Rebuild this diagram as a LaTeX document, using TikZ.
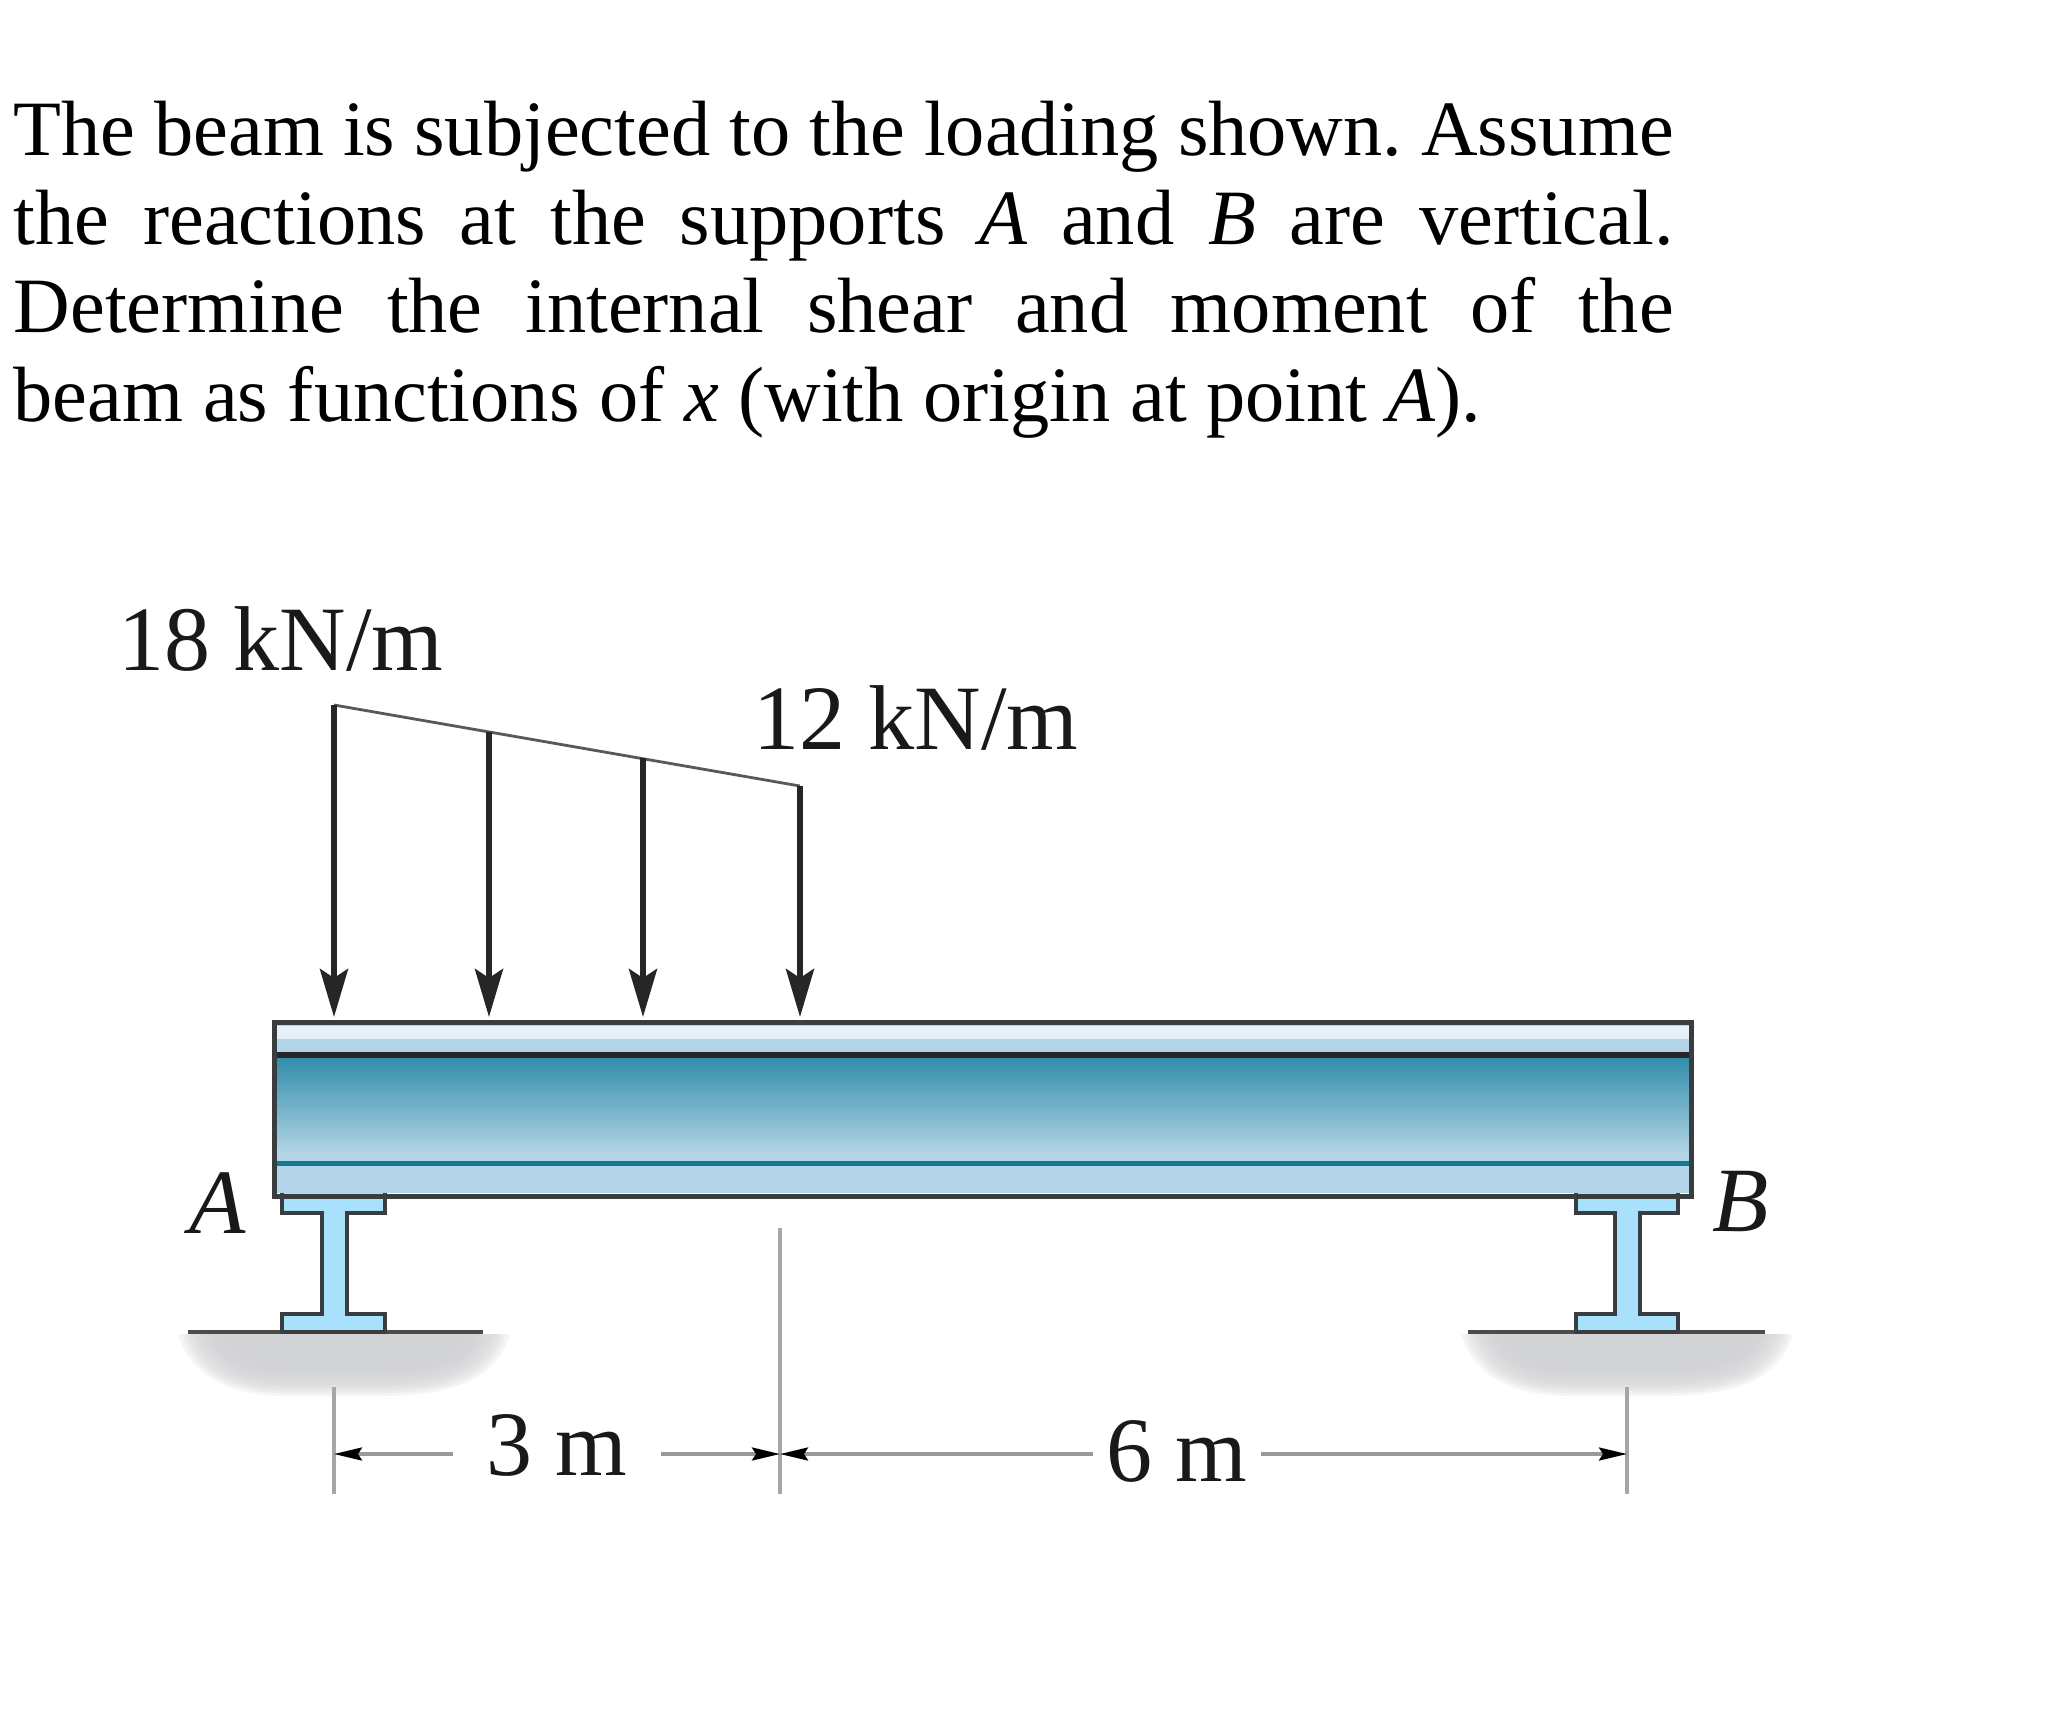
\documentclass[tikz,border=0pt]{standalone}
\usepackage{fontspec}
\setmainfont{Liberation Serif}
\usepackage{xcolor}
\usetikzlibrary{
    arrows.meta
}
\definecolor{flangelight}{HTML}{E4F0FA}
\definecolor{flangemid}{HTML}{B3D3E6}
\definecolor{webtop}{HTML}{2F8BA9}
\definecolor{webbottom}{HTML}{BAD9E9}
\definecolor{webline}{HTML}{12798F}
\definecolor{supportblue}{HTML}{A9E0FB}
\definecolor{edgedark}{HTML}{3A3D40}
\definecolor{grounddark}{HTML}{CFD0D2}
\newcommand{\groundshade}[1]{
    \begin{scope}[xshift=#1cm]
    \foreach \s in {0,0.1,...,1.01}{
        \fill[grounddark, opacity=0.22] (-1.56+0.4*\s,-13.34) .. controls (-1.42+0.4*\s,-13.8+0.2*\s) and (-1.0+0.2*\s,-13.95+0.27*\s) .. (-0.5,-13.96+0.27*\s) -- (0.5,-13.96+0.27*\s) .. controls (1.2-0.2*\s,-13.95+0.27*\s) and (1.62-0.4*\s,-13.8+0.2*\s) .. (1.76-0.4*\s,-13.34) -- cycle;
    }
    \end{scope}
}
\begin{document}
\begin{tikzpicture}[line join=miter]
    \tikzstyle{load}=[-{Stealth[length=4.8mm,width=2.8mm,inset=0.9mm]}, line width=1.7pt, draw=black!85]
    \tikzstyle{loadtop}=[line width=0.8pt, draw=black!65]
    \tikzstyle{dim}=[-{Stealth[length=2.8mm,width=1.3mm,inset=0.4mm,color=black]}, line width=0.9pt, draw=black!40]
    \tikzstyle{tick}=[line width=0.9pt, draw=black!35]
    \tikzstyle{support}=[fill=supportblue, draw=edgedark, line width=1.4pt]
    \tikzstyle{ground}=[line width=1.3pt, draw=black!70]
    \tikzstyle{label}=[font=\fontsize{26.2}{30}\selectfont, text=black!90, inner sep=0]
    \tikzstyle{dimlabel}=[font=\fontsize{26.2}{30}\selectfont, text=black!90, inner ysep=0]
    \useasboundingbox (0,0) rectangle (20.46,-17.17);
    \node[anchor=north west, inner sep=0, text width=16.6cm, align=justify, font=\fontsize{22.3}{25.3}\selectfont] (problem) at (0.13,-1){The beam is subjected to the loading shown.\ Assume\linebreak the reactions at the supports \textit{A} and \textit{B} are vertical.\linebreak Determine the internal shear and moment of the\linebreak beam as functions of \textit{x} (with origin at point \textit{A}).};
    % ground
    \groundshade{3.34}
    \groundshade{16.17}
    \coordinate (ga1) at (1.88,-13.32);
    \coordinate (ga2) at (4.83,-13.32);
    \coordinate (gb1) at (14.68,-13.32);
    \coordinate (gb2) at (17.65,-13.32);
    \draw[ground] (ga1) -- (ga2);
    \draw[ground] (gb1) -- (gb2);
    % supports
    \draw[support] (2.82,-11.9) -- (2.82,-12.13) -- (3.22,-12.13) -- (3.22,-13.14) -- (2.82,-13.14) -- (2.82,-13.32) -- (3.85,-13.32) -- (3.85,-13.14) -- (3.47,-13.14) -- (3.47,-12.13) -- (3.85,-12.13) -- (3.85,-11.9) -- cycle;
    \draw[support] (15.76,-11.9) -- (15.76,-12.13) -- (16.15,-12.13) -- (16.15,-13.14) -- (15.76,-13.14) -- (15.76,-13.32) -- (16.78,-13.32) -- (16.78,-13.14) -- (16.4,-13.14) -- (16.4,-12.13) -- (16.78,-12.13) -- (16.78,-11.9) -- cycle;
    % beam
    \fill[flangemid] (2.72,-10.2) rectangle (16.89,-10.55);
    \fill[flangelight] (2.72,-10.26) rectangle (16.89,-10.39);
    \shade[top color=webtop, bottom color=webbottom] (2.72,-10.56) rectangle (16.89,-11.58);
    \fill[flangemid] (2.72,-11.56) rectangle (16.89,-11.93);
    \fill[webline] (2.72,-11.61) rectangle (16.89,-11.66);
    \draw[line width=1.5pt, draw=black!85] (2.72,-10.55) -- (16.89,-10.55);
    \node[draw=edgedark, line width=1.4pt, minimum width=14.17cm, minimum height=1.74cm, inner sep=0, anchor=north west] (beam) at (2.72,-10.2){};
    % load
    \coordinate (t1) at (3.34,-7.05);
    \coordinate (t2) at (4.89,-7.32);
    \coordinate (t3) at (6.43,-7.58);
    \coordinate (t4) at (8,-7.86);
    \coordinate (b1) at (3.34,-10.17);
    \coordinate (b2) at (4.89,-10.17);
    \coordinate (b3) at (6.43,-10.17);
    \coordinate (b4) at (8,-10.17);
    \draw[loadtop] (t1) -- (t4);
    \draw[load] (t1) -- (b1);
    \draw[load] (t2) -- (b2);
    \draw[load] (t3) -- (b3);
    \draw[load] (t4) -- (b4);
    \node[label, anchor=base west] (wa) at (1.18,-6.7){18 kN/m};
    \node[label, anchor=base west] (wb) at (7.53,-7.49){12 kN/m};
    \node[label, anchor=base west] (lA) at (1.89,-12.33){\textit{A}};
    \node[label, anchor=base west] (lB) at (17.12,-12.31){\textit{B}};
    % dimensions
    \coordinate (d1) at (3.34,-14.54);
    \coordinate (d2a) at (7.8,-14.54);
    \coordinate (d2b) at (7.8,-14.54);
    \coordinate (d3) at (16.27,-14.54);
    \draw[tick] (3.34,-13.87) -- (3.34,-14.94);
    \draw[tick] (7.8,-12.28) -- (7.8,-14.94);
    \draw[tick] (16.27,-13.87) -- (16.27,-14.94);
    \node[dimlabel, anchor=base, inner xsep=0.33cm] (len3) at (5.57,-14.75){3 m};
    \node[dimlabel, anchor=base, inner xsep=0.13cm] (len6) at (11.77,-14.81){6 m\hspace{0.12cm}};
    \draw[dim] (len3.west |- d1) -- (d1);
    \draw[dim] (len3.east |- d2a) -- (d2a);
    \draw[dim] (len6.west |- d2b) -- (d2b);
    \draw[dim] (len6.east |- d3) -- (d3);
\end{tikzpicture}
\end{document}
